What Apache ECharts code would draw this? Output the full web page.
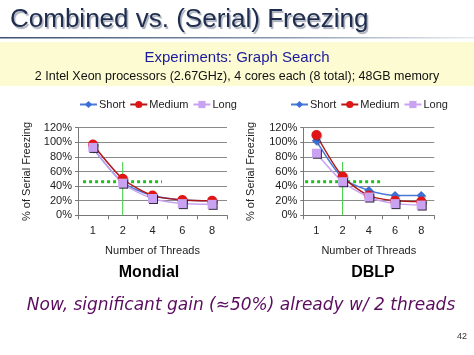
<!DOCTYPE html>
<html><head><meta charset="utf-8">
<script src="https://cdn.jsdelivr.net/npm/echarts@6/dist/echarts.min.js"></script>
<style>html,body{margin:0;padding:0;background:#fff}#c{width:474px;height:355px}</style>
</head><body><div id="c"></div>
<script>
const threads = ['1','2','4','6','8'];
const seriesNames = ['Short','Medium','Long'];
const mondialShort = [92, 45, 27, 21, 20];
const mondialMedium = [97, 50, 27, 21, 20];
const mondialLong = [93, 44, 23, 16, 15];
const dblpShort = [102, 51, 34, 27, 27];
const dblpMedium = [110, 53, 27, 20, 19];
const dblpLong = [85, 46, 25, 16, 14];
const yTicks = [0, 20, 40, 60, 80, 100, 120];
const guideLevel = 46;
const guideTop = 73;
const mondialGuideX = [-0.33, 2.32];
const dblpGuideX = [-0.43, 2.53];

const font = 'Liberation Sans, Arial, sans-serif';
const colors = {Short:'#3b6fd8', Medium:'#e01515', Long:'#c9a3f2'};
const lineColors = {Short:'#4a78d8', Medium:'#b01818', Long:'#c9a3f2'};
const symbols = {Short:'diamond', Medium:'circle', Long:'rect'};
const sizes = {Short:9, Medium:10, Long:9};

function mk(name, data, gi){
  return {
    name, type:'line', data, xAxisIndex: gi*2, yAxisIndex: gi,
    smooth: 0.25, symbol: symbols[name], symbolSize: sizes[name],
    lineStyle:{color: lineColors[name], width: 1.5},
    itemStyle:{color: colors[name], shadowColor: name==='Long'?'rgba(30,20,40,0.9)':'rgba(0,0,0,0.3)', shadowOffsetX:1, shadowOffsetY:1, shadowBlur:0},
    z: 3
  };
}
function guides(gi, gx){
  return [
    {type:'line', xAxisIndex: gi*2+1, yAxisIndex: gi, data:[[gx[0], guideLevel],[gx[1], guideLevel]],
     symbol:'none', lineStyle:{color:'#1fbf1f', width:3, type:[3,3]}, z:2, silent:true},
    {type:'line', xAxisIndex: gi*2+1, yAxisIndex: gi, data:[[1, 0],[1, guideTop]],
     symbol:'none', lineStyle:{color:'#3ccf3c', width:1}, z:2, silent:true}
  ];
}
const grids = [
  {left:78, top:127.7, width:149, height:87.6},
  {left:303.3, top:127.7, width:131, height:87.6}
];
function xAxes(gi){
  return [
    {type:'category', gridIndex:gi, data:threads, boundaryGap:true,
     name:'Number of Threads', nameLocation:'middle', nameGap:30,
     nameTextStyle:{fontFamily:font, fontSize:11, color:'#222'},
     splitLine:{show:false},
     axisLine:{onZero:false, lineStyle:{color:'#777'}}, axisTick:{show:true, lineStyle:{color:'#777'}, length:4},
     axisLabel:{fontFamily:font, fontSize:11, color:'#222', margin:10}},
    {type:'value', gridIndex:gi, min:-0.5, max:4.5, show:false,
     splitLine:{show:false}, axisLine:{show:false, onZero:false}, axisTick:{show:false}, axisLabel:{show:false}}
  ];
}
function yAxis(gi, gap){
  return {type:'value', gridIndex:gi, min:0, max:120, interval:20, position:'left',
    name:'% of Serial Freezing', nameLocation:'middle', nameGap:gap, nameRotate:90,
    nameTextStyle:{fontFamily:font, fontSize:11, color:'#222'},
    axisLine:{show:true, onZero:false, lineStyle:{color:'#777'}}, axisTick:{show:true, length:3, lineStyle:{color:'#777'}},
    splitLine:{lineStyle:{color:'#8a8a8a'}},
    axisLabel:{fontFamily:font, fontSize:11, color:'#222', margin:6, formatter: v => yTicks.includes(v) ? v+'%' : ''}};
}
const legendCommon = {data:seriesNames, top:99, itemWidth:17, itemHeight:9, itemGap:4,
  textStyle:{fontFamily:font, fontSize:11, color:'#222', padding:[0,0,0,-3]}, padding:0};

const chart = echarts.init(document.getElementById('c'), null, {renderer:'canvas'});
chart.setOption({
  animation:false,
  backgroundColor:'#fff',
  grid: grids,
  xAxis: [...xAxes(0), ...xAxes(1)],
  yAxis: [yAxis(0, 46), yAxis(1, 47)],
  legend: [
    Object.assign({left:79}, legendCommon),
    Object.assign({left:290}, legendCommon)
  ],
  series: [
    mk('Short', mondialShort, 0), mk('Medium', mondialMedium, 0), mk('Long', mondialLong, 0),
    mk('Short', dblpShort, 1), mk('Medium', dblpMedium, 1), mk('Long', dblpLong, 1),
    ...guides(0, mondialGuideX), ...guides(1, dblpGuideX)
  ],
  graphic: [
    {type:'rect', shape:{x:0, y:42, width:474, height:44}, style:{fill:'#fdfbd2'}, z:-1},
    {type:'rect', shape:{x:0, y:37, width:474, height:1.5},
     style:{fill:new echarts.graphic.LinearGradient(0,0,1,0,[{offset:0,color:'#3a5070'},{offset:0.6,color:'#8a9ab0'},{offset:1,color:'#e8ecf0'}])}},
    {type:'text', left:10, top:7, style:{text:'Combined vs. (Serial) Freezing', fontFamily:font, fontSize:26, fill:'#1e2d4e',
      textShadowColor:'rgba(60,70,100,0.45)', textShadowOffsetX:1.5, textShadowOffsetY:1.5, textShadowBlur:1}},
    {type:'text', x:237, y:58, style:{text:'Experiments: Graph Search', fontFamily:font, fontSize:15, fill:'#1a1a9c', align:'center', verticalAlign:'middle'}},
    {type:'text', x:237, y:77, style:{text:'2 Intel Xeon processors (2.67GHz), 4 cores each (8 total); 48GB memory', fontFamily:font, fontSize:12.5, fill:'#111', align:'center', verticalAlign:'middle'}},
    {type:'text', x:149, y:273, style:{text:'Mondial', fontFamily:font, fontSize:16, fontWeight:'bold', fill:'#000', align:'center', verticalAlign:'middle'}},
    {type:'text', x:373, y:273, style:{text:'DBLP', fontFamily:font, fontSize:16, fontWeight:'bold', fill:'#000', align:'center', verticalAlign:'middle'}},
    {type:'text', x:241, y:306, style:{text:'Now, significant gain (≈50%) already w/ 2 threads', fontFamily:'DejaVu Sans, sans-serif', fontStyle:'italic', fontSize:17, fill:'#5a0c5e', align:'center', verticalAlign:'middle'}},
    {type:'text', x:462, y:337, style:{text:'42', fontFamily:font, fontSize:9, fill:'#333', align:'center', verticalAlign:'middle'}}
  ]
});
</script></body></html>
